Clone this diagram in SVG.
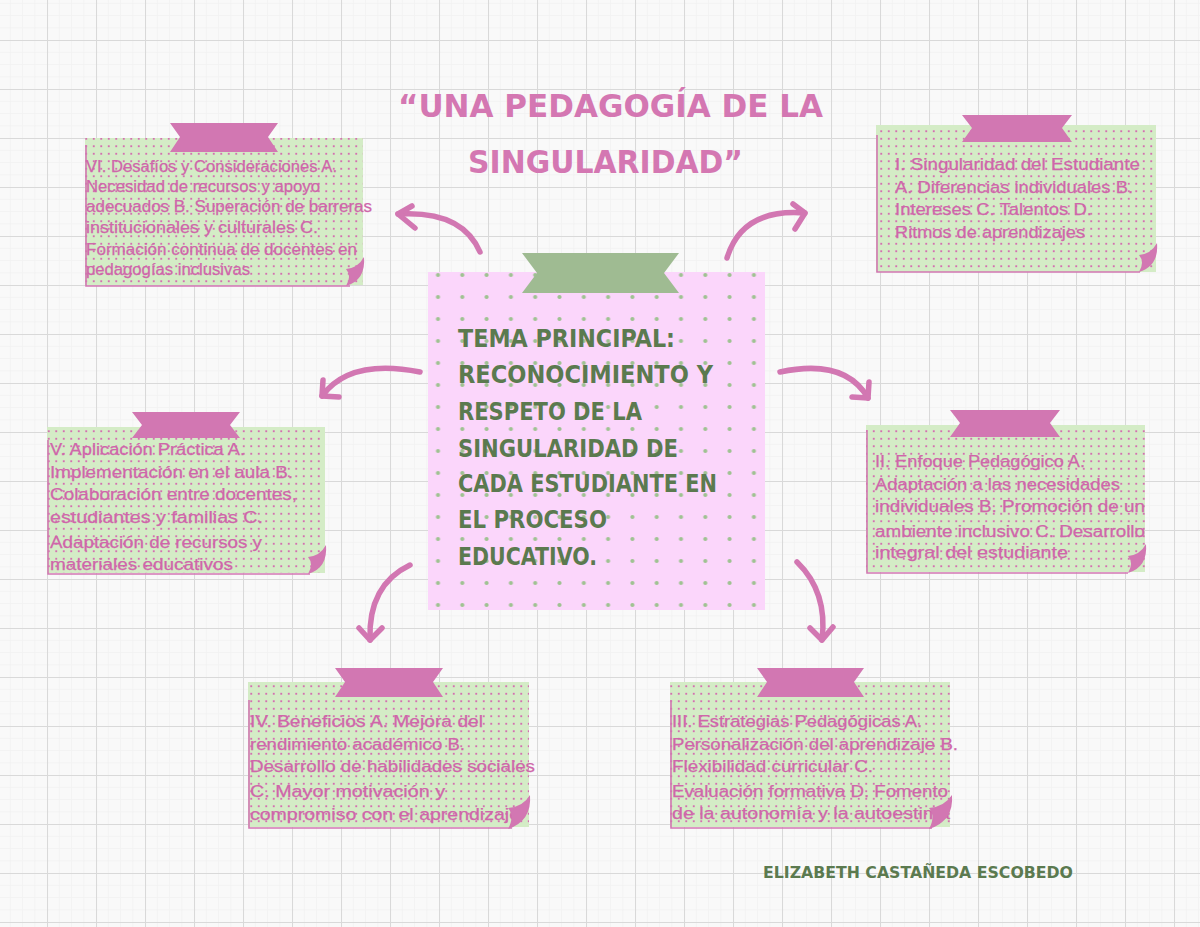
<svg xmlns="http://www.w3.org/2000/svg" width="1200" height="927" viewBox="0 0 1200 927">
<defs>
<pattern id="grid" patternUnits="userSpaceOnUse" x="96" y="40" width="49" height="49">
<path d="M12.25 0V49M24.5 0V49M36.75 0V49M0 12.25H49M0 24.5H49M0 36.75H49" stroke="#f1f1f1" stroke-width="0.8" fill="none"/>
<path d="M0.5 0V49M0 0.5H49" stroke="#d9d9d9" stroke-width="1.1" fill="none"/>
</pattern>
<pattern id="pd" patternUnits="userSpaceOnUse" width="7.5" height="7.5">
<rect x="2.8" y="2.8" width="1.9" height="1.9" fill="#d46fb0"/>
</pattern>
<pattern id="gd" patternUnits="userSpaceOnUse" x="425.85" y="286" width="24.3" height="22">
<circle cx="12.15" cy="11" r="2.1" fill="#9fc292"/>
</pattern>
</defs>
<style>
.bg{fill:#f9f9f9}
.box{fill:#d4ecc6}
.edge{fill:none;stroke:#d277b2;stroke-width:1.6}
.rib{fill:#d277b2}
.curl{fill:#d277b2}
.t{font-family:"Liberation Sans",Arial,sans-serif;font-size:16px;fill:#cf66aa;stroke:#cf66aa;stroke-width:0.25}
.c{font-family:"DejaVu Sans","Liberation Sans",sans-serif;font-weight:bold;font-size:24px;fill:#5b7a4f}
.title{font-family:"DejaVu Sans","Liberation Sans",sans-serif;font-weight:bold;font-size:32px;fill:#d477b2}
.auth{font-family:"DejaVu Sans","Liberation Sans",sans-serif;font-weight:bold;font-size:16px;fill:#5b7a4f}
.arr{fill:none;stroke:#d277b2;stroke-width:5.5;stroke-linecap:round;stroke-linejoin:round}
</style>
<rect class="bg" width="1200" height="927"/>
<rect width="1200" height="927" fill="url(#grid)"/>

<g id="title">
<text class="title" x="398" y="117" textLength="425" lengthAdjust="spacingAndGlyphs">“UNA PEDAGOGÍA DE LA</text>
<text class="title" x="468" y="173" textLength="275" lengthAdjust="spacingAndGlyphs">SINGULARIDAD”</text>
</g>

<g id="connectors">
<path class="arr" d="M480 252 Q462 210 398 214"/>
<path class="arr" d="M412 206 L398 214 L415 228"/>
<path class="arr" d="M727 258 Q742 208 805 213"/>
<path class="arr" d="M793 204 L805 213 L795 229"/>
<path class="arr" d="M420 372 Q350 358 322 396"/>
<path class="arr" d="M323 380 L322 396 L339 397"/>
<path class="arr" d="M780 372 Q845 358 868 398"/>
<path class="arr" d="M869 382 L868 398 L852 397"/>
<path class="arr" d="M410 565 Q368 585 370 640"/>
<path class="arr" d="M359 628 L370 640 L382 628"/>
<path class="arr" d="M797 562 Q828 592 822 640"/>
<path class="arr" d="M810 628 L822 640 L833 627"/>
</g>

<g id="central">
<rect x="428" y="272" width="337" height="338" fill="#fbd6fb"/>
<rect x="428" y="272" width="337" height="338" fill="url(#gd)"/>
<polygon points="522,253 679,253 664,273 679,293 522,293 537,273" fill="#9fbb92"/>
<text class="c" x="458" y="347" textLength="217" lengthAdjust="spacingAndGlyphs">TEMA PRINCIPAL:</text>
<text class="c" x="458" y="383" textLength="255" lengthAdjust="spacingAndGlyphs">RECONOCIMIENTO Y</text>
<text class="c" x="458" y="420" textLength="184" lengthAdjust="spacingAndGlyphs">RESPETO DE LA</text>
<text class="c" x="458" y="457" textLength="220" lengthAdjust="spacingAndGlyphs">SINGULARIDAD DE</text>
<text class="c" x="458" y="492" textLength="259" lengthAdjust="spacingAndGlyphs">CADA ESTUDIANTE EN</text>
<text class="c" x="458" y="528" textLength="149" lengthAdjust="spacingAndGlyphs">EL PROCESO</text>
<text class="c" x="458" y="565" textLength="139" lengthAdjust="spacingAndGlyphs">EDUCATIVO.</text>
</g>

<g id="box-vi">
<rect class="box" x="85" y="138" width="278" height="147"/>
<rect x="85" y="138" width="278" height="147" fill="url(#pd)"/>
<path class="edge" d="M86 145 V286 H350"/>
<polygon class="rib" points="170,123 278,123 268,137 278,152 170,152 180,137"/>
<text class="t" x="86" y="172" textLength="251" lengthAdjust="spacingAndGlyphs">VI. Desafíos y Consideraciones A.</text>
<text class="t" x="86" y="192" textLength="234" lengthAdjust="spacingAndGlyphs">Necesidad de recursos y apoyo</text>
<text class="t" x="86" y="212" textLength="286" lengthAdjust="spacingAndGlyphs">adecuados B. Superación de barreras</text>
<text class="t" x="86" y="233" textLength="232" lengthAdjust="spacingAndGlyphs">institucionales y culturales C.</text>
<text class="t" x="86" y="255" textLength="271" lengthAdjust="spacingAndGlyphs">Formación continua de docentes en</text>
<text class="t" x="86" y="275" textLength="164" lengthAdjust="spacingAndGlyphs">pedagogías inclusivas</text>
<path class="curl" d="M364 257 Q366 280 346 286 Q352 276 346 269 Q358 268 364 257 Z"/>
</g>

<g id="box-i">
<rect class="box" x="876" y="125" width="280" height="147"/>
<rect x="876" y="125" width="280" height="147" fill="url(#pd)"/>
<path class="edge" d="M877 135 V272 H1140"/>
<polygon class="rib" points="962,115 1072,115 1062,128 1072,142 962,142 972,128"/>
<text class="t" x="895" y="170" textLength="245" lengthAdjust="spacingAndGlyphs">I. Singularidad del Estudiante</text>
<text class="t" x="895" y="193" textLength="238" lengthAdjust="spacingAndGlyphs">A. Diferencias individuales B.</text>
<text class="t" x="895" y="215" textLength="197" lengthAdjust="spacingAndGlyphs">Intereses C. Talentos D.</text>
<text class="t" x="895" y="238" textLength="190" lengthAdjust="spacingAndGlyphs">Ritmos de aprendizajes</text>
<path class="curl" d="M1157 243 Q1159 266 1139 272 Q1145 262 1139 255 Q1151 254 1157 243 Z"/>
</g>

<g id="box-v">
<rect class="box" x="47" y="427" width="278" height="146"/>
<rect x="47" y="427" width="278" height="146" fill="url(#pd)"/>
<path class="edge" d="M48 440 V574 H310"/>
<polygon class="rib" points="132,412 240,412 230,425 240,438 132,438 142,425"/>
<text class="t" x="50" y="455" textLength="195" lengthAdjust="spacingAndGlyphs">V. Aplicación Práctica A.</text>
<text class="t" x="50" y="478" textLength="243" lengthAdjust="spacingAndGlyphs">Implementación en el aula B.</text>
<text class="t" x="50" y="500" textLength="247" lengthAdjust="spacingAndGlyphs">Colaboración entre docentes,</text>
<text class="t" x="50" y="523" textLength="213" lengthAdjust="spacingAndGlyphs">estudiantes y familias C.</text>
<text class="t" x="50" y="548" textLength="212" lengthAdjust="spacingAndGlyphs">Adaptación de recursos y</text>
<text class="t" x="50" y="570" textLength="183" lengthAdjust="spacingAndGlyphs">materiales educativos</text>
<path class="curl" d="M326 545 Q328 568 308 574 Q314 564 308 557 Q320 556 326 545 Z"/>
</g>

<g id="box-ii">
<rect class="box" x="866" y="425" width="279" height="147"/>
<rect x="866" y="425" width="279" height="147" fill="url(#pd)"/>
<path class="edge" d="M867 430 V573 H1128"/>
<polygon class="rib" points="950,410 1060,410 1050,423 1060,437 950,437 960,423"/>
<text class="t" x="875" y="467" textLength="210" lengthAdjust="spacingAndGlyphs">II. Enfoque Pedagógico A.</text>
<text class="t" x="875" y="490" textLength="245" lengthAdjust="spacingAndGlyphs">Adaptación a las necesidades</text>
<text class="t" x="875" y="512" textLength="270" lengthAdjust="spacingAndGlyphs">individuales B. Promoción de un</text>
<text class="t" x="875" y="537" textLength="270" lengthAdjust="spacingAndGlyphs">ambiente inclusivo C. Desarrollo</text>
<text class="t" x="875" y="558" textLength="193" lengthAdjust="spacingAndGlyphs">integral del estudiante</text>
<path class="curl" d="M1146 544 Q1148 567 1128 573 Q1134 563 1128 556 Q1140 555 1146 544 Z"/>
</g>

<g id="box-iv">
<rect class="box" x="248" y="682" width="281" height="145"/>
<rect x="248" y="682" width="281" height="145" fill="url(#pd)"/>
<path class="edge" d="M249 700 V828 H512"/>
<polygon class="rib" points="335,668 443,668 433,682 443,697 335,697 345,682"/>
<text class="t" x="250" y="727" textLength="233" lengthAdjust="spacingAndGlyphs">IV. Beneficios A. Mejora del</text>
<text class="t" x="250" y="750" textLength="215" lengthAdjust="spacingAndGlyphs">rendimiento académico B.</text>
<text class="t" x="250" y="772" textLength="285" lengthAdjust="spacingAndGlyphs">Desarrollo de habilidades sociales</text>
<text class="t" x="250" y="797" textLength="195" lengthAdjust="spacingAndGlyphs">C. Mayor motivación y</text>
<text class="t" x="250" y="820" textLength="270" lengthAdjust="spacingAndGlyphs">compromiso con el aprendizaje</text>
<path class="curl" d="M530 795 Q532 821 508 829 Q515 816 508 808 Q523 807 530 795 Z"/>
</g>

<g id="box-iii">
<rect class="box" x="670" y="682" width="280" height="145"/>
<rect x="670" y="682" width="280" height="145" fill="url(#pd)"/>
<path class="edge" d="M671 700 V828 H932"/>
<polygon class="rib" points="757,668 864,668 854,682 864,697 757,697 767,682"/>
<text class="t" x="672" y="727" textLength="250" lengthAdjust="spacingAndGlyphs">III. Estrategias Pedagógicas A.</text>
<text class="t" x="672" y="750" textLength="286" lengthAdjust="spacingAndGlyphs">Personalización del aprendizaje B.</text>
<text class="t" x="672" y="772" textLength="201" lengthAdjust="spacingAndGlyphs">Flexibilidad curricular C.</text>
<text class="t" x="672" y="797" textLength="276" lengthAdjust="spacingAndGlyphs">Evaluación formativa D. Fomento</text>
<text class="t" x="672" y="819" textLength="278" lengthAdjust="spacingAndGlyphs">de la autonomía y la autoestima</text>
<path class="curl" d="M952 795 Q954 821 929 829 Q936 816 929 808 Q944 807 952 795 Z"/>
</g>

<g id="author">
<text class="auth" x="763" y="878" textLength="310" lengthAdjust="spacingAndGlyphs">ELIZABETH CASTAÑEDA ESCOBEDO</text>
</g>
</svg>
